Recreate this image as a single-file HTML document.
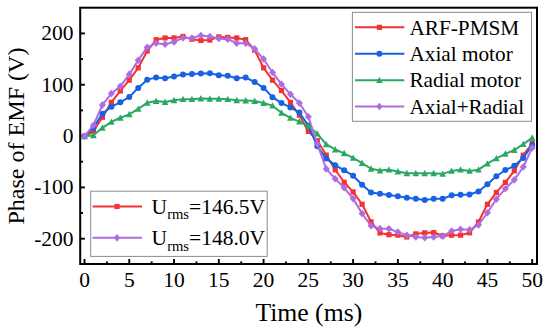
<!DOCTYPE html>
<html><head><meta charset="utf-8"><style>
html,body{margin:0;padding:0;background:#fff;}
body{width:550px;height:329px;overflow:hidden;font-family:"Liberation Serif",serif;}
svg{display:block;}
</style></head><body>
<svg width="550" height="329" viewBox="0 0 550 329">
<rect width="550" height="329" fill="#fff"/>
<g font-family='"Liberation Serif", serif' font-size="21.5" fill="#000">
<text x="84.50" y="286.6" text-anchor="middle">0</text>
<text x="129.27" y="286.6" text-anchor="middle">5</text>
<text x="174.04" y="286.6" text-anchor="middle">10</text>
<text x="218.81" y="286.6" text-anchor="middle">15</text>
<text x="263.58" y="286.6" text-anchor="middle">20</text>
<text x="308.35" y="286.6" text-anchor="middle">25</text>
<text x="353.12" y="286.6" text-anchor="middle">30</text>
<text x="397.89" y="286.6" text-anchor="middle">35</text>
<text x="442.66" y="286.6" text-anchor="middle">40</text>
<text x="487.43" y="286.6" text-anchor="middle">45</text>
<text x="532.20" y="286.6" text-anchor="middle">50</text>
<text x="73.6" y="245.60" text-anchor="end">-200</text>
<text x="73.6" y="194.28" text-anchor="end">-100</text>
<text x="73.6" y="142.95" text-anchor="end">0</text>
<text x="73.6" y="91.63" text-anchor="end">100</text>
<text x="73.6" y="40.30" text-anchor="end">200</text>
</g>
<text x="255.4" y="320.9" font-family='"Liberation Serif", serif' font-size="25.7" fill="#000">Time (ms)</text>
<text transform="translate(23.8,224.6) rotate(-90)" font-family='"Liberation Serif", serif' font-size="24.05" fill="#000">Phase of EMF (V)</text>
<line x1="84.50" y1="264.00" x2="84.50" y2="259.00" stroke="#000" stroke-width="1.9"/>
<line x1="129.27" y1="264.00" x2="129.27" y2="259.00" stroke="#000" stroke-width="1.9"/>
<line x1="174.04" y1="264.00" x2="174.04" y2="259.00" stroke="#000" stroke-width="1.9"/>
<line x1="218.81" y1="264.00" x2="218.81" y2="259.00" stroke="#000" stroke-width="1.9"/>
<line x1="263.58" y1="264.00" x2="263.58" y2="259.00" stroke="#000" stroke-width="1.9"/>
<line x1="308.35" y1="264.00" x2="308.35" y2="259.00" stroke="#000" stroke-width="1.9"/>
<line x1="353.12" y1="264.00" x2="353.12" y2="259.00" stroke="#000" stroke-width="1.9"/>
<line x1="397.89" y1="264.00" x2="397.89" y2="259.00" stroke="#000" stroke-width="1.9"/>
<line x1="442.66" y1="264.00" x2="442.66" y2="259.00" stroke="#000" stroke-width="1.9"/>
<line x1="487.43" y1="264.00" x2="487.43" y2="259.00" stroke="#000" stroke-width="1.9"/>
<line x1="532.20" y1="264.00" x2="532.20" y2="259.00" stroke="#000" stroke-width="1.9"/>
<line x1="106.89" y1="264.00" x2="106.89" y2="261.40" stroke="#000" stroke-width="1.9"/>
<line x1="151.66" y1="264.00" x2="151.66" y2="261.40" stroke="#000" stroke-width="1.9"/>
<line x1="196.43" y1="264.00" x2="196.43" y2="261.40" stroke="#000" stroke-width="1.9"/>
<line x1="241.20" y1="264.00" x2="241.20" y2="261.40" stroke="#000" stroke-width="1.9"/>
<line x1="285.97" y1="264.00" x2="285.97" y2="261.40" stroke="#000" stroke-width="1.9"/>
<line x1="330.74" y1="264.00" x2="330.74" y2="261.40" stroke="#000" stroke-width="1.9"/>
<line x1="375.50" y1="264.00" x2="375.50" y2="261.40" stroke="#000" stroke-width="1.9"/>
<line x1="420.28" y1="264.00" x2="420.28" y2="261.40" stroke="#000" stroke-width="1.9"/>
<line x1="465.05" y1="264.00" x2="465.05" y2="261.40" stroke="#000" stroke-width="1.9"/>
<line x1="509.82" y1="264.00" x2="509.82" y2="261.40" stroke="#000" stroke-width="1.9"/>
<line x1="80.20" y1="238.70" x2="84.90" y2="238.70" stroke="#000" stroke-width="1.9"/>
<line x1="80.20" y1="187.38" x2="84.90" y2="187.38" stroke="#000" stroke-width="1.9"/>
<line x1="80.20" y1="136.05" x2="84.90" y2="136.05" stroke="#000" stroke-width="1.9"/>
<line x1="80.20" y1="84.73" x2="84.90" y2="84.73" stroke="#000" stroke-width="1.9"/>
<line x1="80.20" y1="33.40" x2="84.90" y2="33.40" stroke="#000" stroke-width="1.9"/>
<line x1="80.20" y1="213.04" x2="83.00" y2="213.04" stroke="#000" stroke-width="1.9"/>
<line x1="80.20" y1="161.71" x2="83.00" y2="161.71" stroke="#000" stroke-width="1.9"/>
<line x1="80.20" y1="110.39" x2="83.00" y2="110.39" stroke="#000" stroke-width="1.9"/>
<line x1="80.20" y1="59.06" x2="83.00" y2="59.06" stroke="#000" stroke-width="1.9"/>
<g>
<polyline points="84.50,136.30 93.45,131.15 102.41,117.25 111.36,102.31 120.32,90.98 129.27,80.17 138.22,67.81 147.18,51.02 156.13,39.69 165.09,37.94 174.04,37.94 182.99,36.49 191.95,39.22 200.90,40.51 209.86,40.10 218.81,36.91 227.76,37.42 236.72,37.94 245.67,39.69 254.63,50.09 263.58,67.81 272.53,80.17 281.49,90.62 290.44,102.46 299.40,115.19 308.35,131.41 317.30,140.68 326.26,155.10 335.21,169.78 344.17,182.29 353.12,191.92 362.07,204.28 371.03,221.79 379.98,232.91 388.94,234.67 397.89,235.18 406.84,236.98 415.80,233.89 424.75,232.81 433.71,232.50 442.66,235.80 451.61,235.18 460.57,235.18 469.52,232.81 478.48,222.00 487.43,204.28 496.38,192.44 505.34,182.39 514.29,170.81 523.25,155.20 532.20,143.30" fill="none" stroke="#F43232" stroke-width="2.0" stroke-linejoin="round"/>
<rect x="81.90" y="133.70" width="5.2" height="5.2" fill="#F43232"/>
<rect x="90.85" y="128.55" width="5.2" height="5.2" fill="#F43232"/>
<rect x="99.81" y="114.65" width="5.2" height="5.2" fill="#F43232"/>
<rect x="108.76" y="99.71" width="5.2" height="5.2" fill="#F43232"/>
<rect x="117.72" y="88.38" width="5.2" height="5.2" fill="#F43232"/>
<rect x="126.67" y="77.57" width="5.2" height="5.2" fill="#F43232"/>
<rect x="135.62" y="65.21" width="5.2" height="5.2" fill="#F43232"/>
<rect x="144.58" y="48.42" width="5.2" height="5.2" fill="#F43232"/>
<rect x="153.53" y="37.09" width="5.2" height="5.2" fill="#F43232"/>
<rect x="162.49" y="35.34" width="5.2" height="5.2" fill="#F43232"/>
<rect x="171.44" y="35.34" width="5.2" height="5.2" fill="#F43232"/>
<rect x="180.39" y="33.89" width="5.2" height="5.2" fill="#F43232"/>
<rect x="189.35" y="36.62" width="5.2" height="5.2" fill="#F43232"/>
<rect x="198.30" y="37.91" width="5.2" height="5.2" fill="#F43232"/>
<rect x="207.26" y="37.50" width="5.2" height="5.2" fill="#F43232"/>
<rect x="216.21" y="34.31" width="5.2" height="5.2" fill="#F43232"/>
<rect x="225.16" y="34.82" width="5.2" height="5.2" fill="#F43232"/>
<rect x="234.12" y="35.34" width="5.2" height="5.2" fill="#F43232"/>
<rect x="243.07" y="37.09" width="5.2" height="5.2" fill="#F43232"/>
<rect x="252.03" y="47.49" width="5.2" height="5.2" fill="#F43232"/>
<rect x="260.98" y="65.21" width="5.2" height="5.2" fill="#F43232"/>
<rect x="269.93" y="77.57" width="5.2" height="5.2" fill="#F43232"/>
<rect x="278.89" y="88.02" width="5.2" height="5.2" fill="#F43232"/>
<rect x="287.84" y="99.86" width="5.2" height="5.2" fill="#F43232"/>
<rect x="296.80" y="112.59" width="5.2" height="5.2" fill="#F43232"/>
<rect x="305.75" y="128.81" width="5.2" height="5.2" fill="#F43232"/>
<rect x="314.70" y="138.08" width="5.2" height="5.2" fill="#F43232"/>
<rect x="323.66" y="152.50" width="5.2" height="5.2" fill="#F43232"/>
<rect x="332.61" y="167.18" width="5.2" height="5.2" fill="#F43232"/>
<rect x="341.57" y="179.69" width="5.2" height="5.2" fill="#F43232"/>
<rect x="350.52" y="189.32" width="5.2" height="5.2" fill="#F43232"/>
<rect x="359.47" y="201.68" width="5.2" height="5.2" fill="#F43232"/>
<rect x="368.43" y="219.19" width="5.2" height="5.2" fill="#F43232"/>
<rect x="377.38" y="230.31" width="5.2" height="5.2" fill="#F43232"/>
<rect x="386.34" y="232.07" width="5.2" height="5.2" fill="#F43232"/>
<rect x="395.29" y="232.58" width="5.2" height="5.2" fill="#F43232"/>
<rect x="404.24" y="234.38" width="5.2" height="5.2" fill="#F43232"/>
<rect x="413.20" y="231.29" width="5.2" height="5.2" fill="#F43232"/>
<rect x="422.15" y="230.21" width="5.2" height="5.2" fill="#F43232"/>
<rect x="431.11" y="229.90" width="5.2" height="5.2" fill="#F43232"/>
<rect x="440.06" y="233.20" width="5.2" height="5.2" fill="#F43232"/>
<rect x="449.01" y="232.58" width="5.2" height="5.2" fill="#F43232"/>
<rect x="457.97" y="232.58" width="5.2" height="5.2" fill="#F43232"/>
<rect x="466.92" y="230.21" width="5.2" height="5.2" fill="#F43232"/>
<rect x="475.88" y="219.40" width="5.2" height="5.2" fill="#F43232"/>
<rect x="484.83" y="201.68" width="5.2" height="5.2" fill="#F43232"/>
<rect x="493.78" y="189.84" width="5.2" height="5.2" fill="#F43232"/>
<rect x="502.74" y="179.79" width="5.2" height="5.2" fill="#F43232"/>
<rect x="511.69" y="168.21" width="5.2" height="5.2" fill="#F43232"/>
<rect x="520.65" y="152.60" width="5.2" height="5.2" fill="#F43232"/>
<rect x="529.60" y="140.70" width="5.2" height="5.2" fill="#F43232"/>
<polyline points="84.50,136.30 93.45,127.80 102.41,113.64 111.36,106.69 120.32,102.31 129.27,97.01 138.22,87.89 147.18,79.65 156.13,77.59 165.09,78.21 174.04,76.56 182.99,74.50 191.95,73.99 200.90,73.47 209.86,73.32 218.81,75.27 227.76,75.79 236.72,78.31 245.67,77.38 254.63,82.02 263.58,87.89 272.53,97.16 281.49,103.08 290.44,107.46 299.40,112.61 308.35,125.49 317.30,146.29 326.26,158.60 335.21,165.14 344.17,170.29 353.12,175.70 362.07,184.71 371.03,192.44 379.98,193.72 388.94,195.11 397.89,196.19 406.84,197.84 415.80,198.77 424.75,199.90 433.71,198.87 442.66,198.87 451.61,195.22 460.57,194.70 469.52,194.44 478.48,191.51 487.43,184.20 496.38,176.21 505.34,170.03 514.29,165.81 523.25,157.93 532.20,145.06" fill="none" stroke="#1662E2" stroke-width="2.0" stroke-linejoin="round"/>
<circle cx="84.50" cy="136.30" r="3.0" fill="#1662E2"/>
<circle cx="93.45" cy="127.80" r="3.0" fill="#1662E2"/>
<circle cx="102.41" cy="113.64" r="3.0" fill="#1662E2"/>
<circle cx="111.36" cy="106.69" r="3.0" fill="#1662E2"/>
<circle cx="120.32" cy="102.31" r="3.0" fill="#1662E2"/>
<circle cx="129.27" cy="97.01" r="3.0" fill="#1662E2"/>
<circle cx="138.22" cy="87.89" r="3.0" fill="#1662E2"/>
<circle cx="147.18" cy="79.65" r="3.0" fill="#1662E2"/>
<circle cx="156.13" cy="77.59" r="3.0" fill="#1662E2"/>
<circle cx="165.09" cy="78.21" r="3.0" fill="#1662E2"/>
<circle cx="174.04" cy="76.56" r="3.0" fill="#1662E2"/>
<circle cx="182.99" cy="74.50" r="3.0" fill="#1662E2"/>
<circle cx="191.95" cy="73.99" r="3.0" fill="#1662E2"/>
<circle cx="200.90" cy="73.47" r="3.0" fill="#1662E2"/>
<circle cx="209.86" cy="73.32" r="3.0" fill="#1662E2"/>
<circle cx="218.81" cy="75.27" r="3.0" fill="#1662E2"/>
<circle cx="227.76" cy="75.79" r="3.0" fill="#1662E2"/>
<circle cx="236.72" cy="78.31" r="3.0" fill="#1662E2"/>
<circle cx="245.67" cy="77.38" r="3.0" fill="#1662E2"/>
<circle cx="254.63" cy="82.02" r="3.0" fill="#1662E2"/>
<circle cx="263.58" cy="87.89" r="3.0" fill="#1662E2"/>
<circle cx="272.53" cy="97.16" r="3.0" fill="#1662E2"/>
<circle cx="281.49" cy="103.08" r="3.0" fill="#1662E2"/>
<circle cx="290.44" cy="107.46" r="3.0" fill="#1662E2"/>
<circle cx="299.40" cy="112.61" r="3.0" fill="#1662E2"/>
<circle cx="308.35" cy="125.49" r="3.0" fill="#1662E2"/>
<circle cx="317.30" cy="146.29" r="3.0" fill="#1662E2"/>
<circle cx="326.26" cy="158.60" r="3.0" fill="#1662E2"/>
<circle cx="335.21" cy="165.14" r="3.0" fill="#1662E2"/>
<circle cx="344.17" cy="170.29" r="3.0" fill="#1662E2"/>
<circle cx="353.12" cy="175.70" r="3.0" fill="#1662E2"/>
<circle cx="362.07" cy="184.71" r="3.0" fill="#1662E2"/>
<circle cx="371.03" cy="192.44" r="3.0" fill="#1662E2"/>
<circle cx="379.98" cy="193.72" r="3.0" fill="#1662E2"/>
<circle cx="388.94" cy="195.11" r="3.0" fill="#1662E2"/>
<circle cx="397.89" cy="196.19" r="3.0" fill="#1662E2"/>
<circle cx="406.84" cy="197.84" r="3.0" fill="#1662E2"/>
<circle cx="415.80" cy="198.77" r="3.0" fill="#1662E2"/>
<circle cx="424.75" cy="199.90" r="3.0" fill="#1662E2"/>
<circle cx="433.71" cy="198.87" r="3.0" fill="#1662E2"/>
<circle cx="442.66" cy="198.87" r="3.0" fill="#1662E2"/>
<circle cx="451.61" cy="195.22" r="3.0" fill="#1662E2"/>
<circle cx="460.57" cy="194.70" r="3.0" fill="#1662E2"/>
<circle cx="469.52" cy="194.44" r="3.0" fill="#1662E2"/>
<circle cx="478.48" cy="191.51" r="3.0" fill="#1662E2"/>
<circle cx="487.43" cy="184.20" r="3.0" fill="#1662E2"/>
<circle cx="496.38" cy="176.21" r="3.0" fill="#1662E2"/>
<circle cx="505.34" cy="170.03" r="3.0" fill="#1662E2"/>
<circle cx="514.29" cy="165.81" r="3.0" fill="#1662E2"/>
<circle cx="523.25" cy="157.93" r="3.0" fill="#1662E2"/>
<circle cx="532.20" cy="145.06" r="3.0" fill="#1662E2"/>
<polyline points="84.50,136.30 93.45,135.27 102.41,127.80 111.36,121.88 120.32,117.76 129.27,114.31 138.22,108.90 147.18,102.83 156.13,101.02 165.09,102.10 174.04,100.25 182.99,99.22 191.95,99.22 200.90,98.50 209.86,98.81 218.81,98.81 227.76,99.22 236.72,100.25 245.67,100.61 254.63,101.02 263.58,103.08 272.53,105.66 281.49,112.82 290.44,117.91 299.40,121.62 308.35,125.74 317.30,133.73 326.26,144.28 335.21,149.48 344.17,153.30 353.12,157.93 362.07,163.08 371.03,168.75 379.98,170.50 388.94,169.67 397.89,171.53 406.84,173.28 415.80,173.28 424.75,173.28 433.71,173.28 442.66,173.90 451.61,170.91 460.57,169.67 469.52,170.96 478.48,169.67 487.43,163.70 496.38,158.45 505.34,153.81 514.29,150.10 523.25,144.18 532.20,137.79" fill="none" stroke="#2AA862" stroke-width="2.0" stroke-linejoin="round"/>
<polygon points="84.50,132.80 87.80,139.20 81.20,139.20" fill="#2AA862"/>
<polygon points="93.45,131.77 96.75,138.17 90.15,138.17" fill="#2AA862"/>
<polygon points="102.41,124.30 105.71,130.70 99.11,130.70" fill="#2AA862"/>
<polygon points="111.36,118.38 114.66,124.78 108.06,124.78" fill="#2AA862"/>
<polygon points="120.32,114.26 123.62,120.66 117.02,120.66" fill="#2AA862"/>
<polygon points="129.27,110.81 132.57,117.21 125.97,117.21" fill="#2AA862"/>
<polygon points="138.22,105.40 141.52,111.80 134.92,111.80" fill="#2AA862"/>
<polygon points="147.18,99.33 150.48,105.73 143.88,105.73" fill="#2AA862"/>
<polygon points="156.13,97.52 159.43,103.92 152.83,103.92" fill="#2AA862"/>
<polygon points="165.09,98.60 168.39,105.00 161.79,105.00" fill="#2AA862"/>
<polygon points="174.04,96.75 177.34,103.15 170.74,103.15" fill="#2AA862"/>
<polygon points="182.99,95.72 186.29,102.12 179.69,102.12" fill="#2AA862"/>
<polygon points="191.95,95.72 195.25,102.12 188.65,102.12" fill="#2AA862"/>
<polygon points="200.90,95.00 204.20,101.40 197.60,101.40" fill="#2AA862"/>
<polygon points="209.86,95.31 213.16,101.71 206.56,101.71" fill="#2AA862"/>
<polygon points="218.81,95.31 222.11,101.71 215.51,101.71" fill="#2AA862"/>
<polygon points="227.76,95.72 231.06,102.12 224.46,102.12" fill="#2AA862"/>
<polygon points="236.72,96.75 240.02,103.15 233.42,103.15" fill="#2AA862"/>
<polygon points="245.67,97.11 248.97,103.51 242.37,103.51" fill="#2AA862"/>
<polygon points="254.63,97.52 257.93,103.92 251.33,103.92" fill="#2AA862"/>
<polygon points="263.58,99.58 266.88,105.98 260.28,105.98" fill="#2AA862"/>
<polygon points="272.53,102.16 275.83,108.56 269.23,108.56" fill="#2AA862"/>
<polygon points="281.49,109.32 284.79,115.72 278.19,115.72" fill="#2AA862"/>
<polygon points="290.44,114.41 293.74,120.81 287.14,120.81" fill="#2AA862"/>
<polygon points="299.40,118.12 302.70,124.52 296.10,124.52" fill="#2AA862"/>
<polygon points="308.35,122.24 311.65,128.64 305.05,128.64" fill="#2AA862"/>
<polygon points="317.30,130.23 320.60,136.62 314.00,136.62" fill="#2AA862"/>
<polygon points="326.26,140.78 329.56,147.18 322.96,147.18" fill="#2AA862"/>
<polygon points="335.21,145.98 338.51,152.38 331.91,152.38" fill="#2AA862"/>
<polygon points="344.17,149.80 347.47,156.19 340.87,156.19" fill="#2AA862"/>
<polygon points="353.12,154.43 356.42,160.83 349.82,160.83" fill="#2AA862"/>
<polygon points="362.07,159.58 365.37,165.98 358.77,165.98" fill="#2AA862"/>
<polygon points="371.03,165.25 374.33,171.64 367.73,171.64" fill="#2AA862"/>
<polygon points="379.98,167.00 383.28,173.40 376.68,173.40" fill="#2AA862"/>
<polygon points="388.94,166.17 392.24,172.57 385.64,172.57" fill="#2AA862"/>
<polygon points="397.89,168.03 401.19,174.43 394.59,174.43" fill="#2AA862"/>
<polygon points="406.84,169.78 410.14,176.18 403.54,176.18" fill="#2AA862"/>
<polygon points="415.80,169.78 419.10,176.18 412.50,176.18" fill="#2AA862"/>
<polygon points="424.75,169.78 428.05,176.18 421.45,176.18" fill="#2AA862"/>
<polygon points="433.71,169.78 437.01,176.18 430.41,176.18" fill="#2AA862"/>
<polygon points="442.66,170.40 445.96,176.79 439.36,176.79" fill="#2AA862"/>
<polygon points="451.61,167.41 454.91,173.81 448.31,173.81" fill="#2AA862"/>
<polygon points="460.57,166.17 463.87,172.57 457.27,172.57" fill="#2AA862"/>
<polygon points="469.52,167.46 472.82,173.86 466.22,173.86" fill="#2AA862"/>
<polygon points="478.48,166.17 481.78,172.57 475.18,172.57" fill="#2AA862"/>
<polygon points="487.43,160.20 490.73,166.60 484.13,166.60" fill="#2AA862"/>
<polygon points="496.38,154.95 499.68,161.34 493.08,161.34" fill="#2AA862"/>
<polygon points="505.34,150.31 508.64,156.71 502.04,156.71" fill="#2AA862"/>
<polygon points="514.29,146.60 517.59,153.00 510.99,153.00" fill="#2AA862"/>
<polygon points="523.25,140.68 526.55,147.08 519.95,147.08" fill="#2AA862"/>
<polygon points="532.20,134.29 535.50,140.69 528.90,140.69" fill="#2AA862"/>
<polyline points="84.50,136.30 93.45,125.23 102.41,104.89 111.36,93.56 120.32,86.35 129.27,74.40 138.22,60.18 147.18,47.41 156.13,43.19 165.09,44.32 174.04,41.90 182.99,37.94 191.95,37.94 200.90,35.51 209.86,36.49 218.81,38.45 227.76,39.22 236.72,43.19 245.67,43.19 254.63,48.90 263.58,59.05 272.53,72.44 281.49,84.29 290.44,94.22 299.40,103.08 308.35,116.78 317.30,144.03 326.26,168.90 335.21,178.79 344.17,187.80 353.12,198.62 362.07,213.55 371.03,225.70 379.98,228.64 388.94,228.79 397.89,232.09 406.84,235.18 415.80,236.98 424.75,237.75 433.71,236.98 442.66,236.11 451.61,231.06 460.57,229.21 469.52,229.77 478.48,224.88 487.43,212.78 496.38,199.13 505.34,188.68 514.29,179.87 523.25,166.99 532.20,147.89" fill="none" stroke="#AF6CE2" stroke-width="2.0" stroke-linejoin="round"/>
<polygon points="84.50,132.50 88.00,136.30 84.50,140.10 81.00,136.30" fill="#AF6CE2"/>
<polygon points="93.45,121.43 96.95,125.23 93.45,129.03 89.95,125.23" fill="#AF6CE2"/>
<polygon points="102.41,101.09 105.91,104.89 102.41,108.69 98.91,104.89" fill="#AF6CE2"/>
<polygon points="111.36,89.76 114.86,93.56 111.36,97.36 107.86,93.56" fill="#AF6CE2"/>
<polygon points="120.32,82.55 123.82,86.35 120.32,90.15 116.82,86.35" fill="#AF6CE2"/>
<polygon points="129.27,70.60 132.77,74.40 129.27,78.20 125.77,74.40" fill="#AF6CE2"/>
<polygon points="138.22,56.38 141.72,60.18 138.22,63.98 134.72,60.18" fill="#AF6CE2"/>
<polygon points="147.18,43.61 150.68,47.41 147.18,51.21 143.68,47.41" fill="#AF6CE2"/>
<polygon points="156.13,39.39 159.63,43.19 156.13,46.99 152.63,43.19" fill="#AF6CE2"/>
<polygon points="165.09,40.52 168.59,44.32 165.09,48.12 161.59,44.32" fill="#AF6CE2"/>
<polygon points="174.04,38.10 177.54,41.90 174.04,45.70 170.54,41.90" fill="#AF6CE2"/>
<polygon points="182.99,34.14 186.49,37.94 182.99,41.73 179.49,37.94" fill="#AF6CE2"/>
<polygon points="191.95,34.14 195.45,37.94 191.95,41.73 188.45,37.94" fill="#AF6CE2"/>
<polygon points="200.90,31.71 204.40,35.51 200.90,39.31 197.40,35.51" fill="#AF6CE2"/>
<polygon points="209.86,32.69 213.36,36.49 209.86,40.29 206.36,36.49" fill="#AF6CE2"/>
<polygon points="218.81,34.65 222.31,38.45 218.81,42.25 215.31,38.45" fill="#AF6CE2"/>
<polygon points="227.76,35.42 231.26,39.22 227.76,43.02 224.26,39.22" fill="#AF6CE2"/>
<polygon points="236.72,39.39 240.22,43.19 236.72,46.99 233.22,43.19" fill="#AF6CE2"/>
<polygon points="245.67,39.39 249.17,43.19 245.67,46.99 242.17,43.19" fill="#AF6CE2"/>
<polygon points="254.63,45.10 258.13,48.90 254.63,52.70 251.13,48.90" fill="#AF6CE2"/>
<polygon points="263.58,55.25 267.08,59.05 263.58,62.85 260.08,59.05" fill="#AF6CE2"/>
<polygon points="272.53,68.64 276.03,72.44 272.53,76.24 269.03,72.44" fill="#AF6CE2"/>
<polygon points="281.49,80.49 284.99,84.29 281.49,88.09 277.99,84.29" fill="#AF6CE2"/>
<polygon points="290.44,90.42 293.94,94.22 290.44,98.02 286.94,94.22" fill="#AF6CE2"/>
<polygon points="299.40,99.28 302.90,103.08 299.40,106.88 295.90,103.08" fill="#AF6CE2"/>
<polygon points="308.35,112.98 311.85,116.78 308.35,120.58 304.85,116.78" fill="#AF6CE2"/>
<polygon points="317.30,140.22 320.80,144.03 317.30,147.83 313.80,144.03" fill="#AF6CE2"/>
<polygon points="326.26,165.10 329.76,168.90 326.26,172.70 322.76,168.90" fill="#AF6CE2"/>
<polygon points="335.21,174.99 338.71,178.79 335.21,182.59 331.71,178.79" fill="#AF6CE2"/>
<polygon points="344.17,184.00 347.67,187.80 344.17,191.60 340.67,187.80" fill="#AF6CE2"/>
<polygon points="353.12,194.81 356.62,198.62 353.12,202.42 349.62,198.62" fill="#AF6CE2"/>
<polygon points="362.07,209.75 365.57,213.55 362.07,217.35 358.57,213.55" fill="#AF6CE2"/>
<polygon points="371.03,221.90 374.53,225.70 371.03,229.50 367.53,225.70" fill="#AF6CE2"/>
<polygon points="379.98,224.84 383.48,228.64 379.98,232.44 376.48,228.64" fill="#AF6CE2"/>
<polygon points="388.94,224.99 392.44,228.79 388.94,232.59 385.44,228.79" fill="#AF6CE2"/>
<polygon points="397.89,228.29 401.39,232.09 397.89,235.89 394.39,232.09" fill="#AF6CE2"/>
<polygon points="406.84,231.38 410.34,235.18 406.84,238.98 403.34,235.18" fill="#AF6CE2"/>
<polygon points="415.80,233.18 419.30,236.98 415.80,240.78 412.30,236.98" fill="#AF6CE2"/>
<polygon points="424.75,233.95 428.25,237.75 424.75,241.56 421.25,237.75" fill="#AF6CE2"/>
<polygon points="433.71,233.18 437.21,236.98 433.71,240.78 430.21,236.98" fill="#AF6CE2"/>
<polygon points="442.66,232.31 446.16,236.11 442.66,239.91 439.16,236.11" fill="#AF6CE2"/>
<polygon points="451.61,227.26 455.11,231.06 451.61,234.86 448.11,231.06" fill="#AF6CE2"/>
<polygon points="460.57,225.41 464.07,229.21 460.57,233.01 457.07,229.21" fill="#AF6CE2"/>
<polygon points="469.52,225.97 473.02,229.77 469.52,233.57 466.02,229.77" fill="#AF6CE2"/>
<polygon points="478.48,221.08 481.98,224.88 478.48,228.68 474.98,224.88" fill="#AF6CE2"/>
<polygon points="487.43,208.98 490.93,212.78 487.43,216.58 483.93,212.78" fill="#AF6CE2"/>
<polygon points="496.38,195.33 499.88,199.13 496.38,202.93 492.88,199.13" fill="#AF6CE2"/>
<polygon points="505.34,184.88 508.84,188.68 505.34,192.48 501.84,188.68" fill="#AF6CE2"/>
<polygon points="514.29,176.07 517.79,179.87 514.29,183.67 510.79,179.87" fill="#AF6CE2"/>
<polygon points="523.25,163.19 526.75,166.99 523.25,170.79 519.75,166.99" fill="#AF6CE2"/>
<polygon points="532.20,144.09 535.70,147.89 532.20,151.69 528.70,147.89" fill="#AF6CE2"/>
</g>
<g font-family='"Liberation Serif", serif' font-size="21.5" fill="#000">
<rect x="352.4" y="12.3" width="179.1" height="109.0" fill="#fff" stroke="#8c8c8c" stroke-width="1"/>
<line x1="355" y1="27.35" x2="404.3" y2="27.35" stroke="#F43232" stroke-width="2.0"/>
<rect x="376.80" y="24.75" width="5.2" height="5.2" fill="#F43232"/>
<text transform="translate(409.4 34.65) scale(0.989 1)">ARF-PMSM</text>
<line x1="355" y1="53.75" x2="404.3" y2="53.75" stroke="#1662E2" stroke-width="2.0"/>
<circle cx="379.40" cy="53.75" r="3.0" fill="#1662E2"/>
<text transform="translate(409.4 61.05) scale(0.989 1)">Axial motor</text>
<line x1="355" y1="80.15" x2="404.3" y2="80.15" stroke="#2AA862" stroke-width="2.0"/>
<polygon points="379.40,76.65 382.70,83.05 376.10,83.05" fill="#2AA862"/>
<text transform="translate(409.4 87.45) scale(0.989 1)">Radial motor</text>
<line x1="355" y1="106.55" x2="404.3" y2="106.55" stroke="#AF6CE2" stroke-width="2.0"/>
<polygon points="379.40,102.75 382.60,106.55 379.40,110.35 376.20,106.55" fill="#AF6CE2"/>
<text transform="translate(409.4 113.85) scale(0.989 1)">Axial+Radial</text>
<rect x="90.7" y="191.2" width="176.5" height="65.2" fill="#fff" stroke="#8c8c8c" stroke-width="1"/>
<line x1="92.6" y1="206.50" x2="142" y2="206.50" stroke="#F43232" stroke-width="2.0"/>
<rect x="114.40" y="203.90" width="5.2" height="5.2" fill="#F43232"/>
<text x="151.6" y="213.80">U<tspan font-size="14.6" dy="5.4">rms</tspan><tspan dy="-5.4">=146.5V</tspan></text>
<line x1="92.6" y1="237.85" x2="142" y2="237.85" stroke="#AF6CE2" stroke-width="2.0"/>
<polygon points="117.00,234.05 120.20,237.85 117.00,241.65 113.80,237.85" fill="#AF6CE2"/>
<text x="151.6" y="245.15">U<tspan font-size="14.6" dy="5.4">rms</tspan><tspan dy="-5.4">=148.0V</tspan></text>
</g>
<rect x="80.2" y="7.7" width="456.80" height="256.30" fill="none" stroke="#000" stroke-width="2.0"/>
</svg>
</body></html>
